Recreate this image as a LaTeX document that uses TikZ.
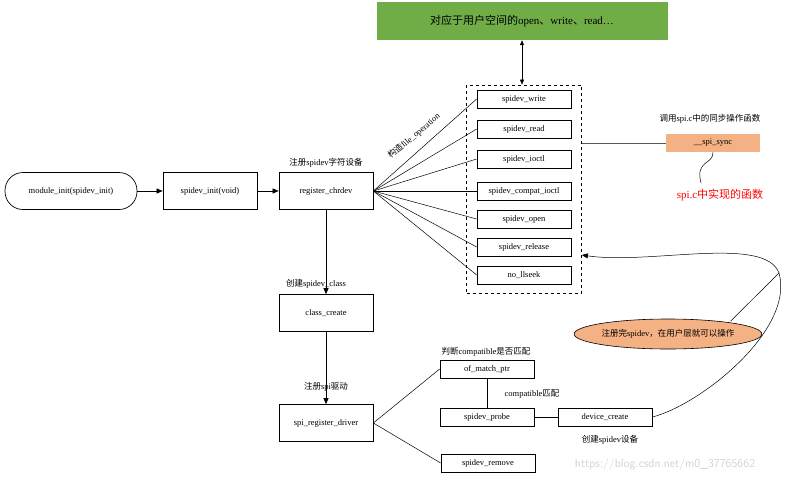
\documentclass[tikz,border=0pt]{standalone}
\usepackage{fontspec}
\setmainfont{Liberation Serif}
\newfontfamily\cjk{Noto Sans CJK SC}
\usetikzlibrary{shapes.geometric,arrows.meta,decorations.pathmorphing}
\definecolor{gfill}{HTML}{70AD47}
\definecolor{ofill}{HTML}{F4B183}
\begin{document}
\begin{tikzpicture}[x=1pt,y=-1pt,font=\fontsize{8.5}{10}\selectfont,
  box/.style={draw,line width=0.7pt,minimum height=#1,inner sep=1pt},
  b/.style={box=37pt,minimum width=94pt},
  s/.style={box=18pt,minimum width=94pt},
  arr/.style={-{Triangle[length=6pt,width=5pt]},line width=0.6pt},
  ln/.style={line width=0.5pt}]
\useasboundingbox (0,0) rectangle (789,482);
\node[fill=gfill,minimum width=291pt,minimum height=38pt,font=\fontsize{11}{13}\selectfont] (top) at (522,21) {{\cjk 对应于用户空间的}open{\cjk 、}write{\cjk 、}read…};
\node[draw,dashed,line width=0.7pt,minimum width=115pt,minimum height=208pt] (dash) at (524,189) {};
\draw[{Triangle[length=5pt,width=4pt]}-{Triangle[length=5pt,width=4pt]},line width=0.6pt] (top.south) -- (dash.north -| top.south);
\node[draw,line width=0.7pt,rounded corners=18pt,minimum width=132pt,minimum height=37pt] (mi) at (71,191) {module\_init(spidev\_init)};
\node[b] (si) at (210,191) {spidev\_init(void)};
\node[b] (rc) at (326,191) {register\_chrdev};
\node[b] (cc) at (326,313) {class\_create};
\node[b] (sr) at (326,423) {spi\_register\_driver};
\draw[arr] (mi) -- (si);
\draw[arr] (si) -- (rc);
\draw[arr] (rc) -- (cc);
\draw[arr] (cc) -- (sr);
\foreach \n/\t/\y in {w/spidev\_write/99,r/spidev\_read/129,i/spidev\_ioctl/159,c/spidev\_compat\_ioctl/191,o/spidev\_open/219,re/spidev\_release/247,l/no\_llseek/275}{
  \node[s] (\n) at (524,\y) {\t};
  \draw[ln] (rc.east) -- (\n.west);
}
\node[rotate=40,fill=white,inner sep=0.5pt] (fo) at (414,136) {{\cjk 构造}file\_operation};
\node (l1) at (326,163) {{\cjk 注册}spidev{\cjk 字符设备}};
\node (l2) at (316,284) {{\cjk 创建}spidev\_class};
\node (l3) at (326,387) {{\cjk 注册}spi{\cjk 驱动}};
\node[s,fill=ofill,draw=none] (ss) at (713,143) {\_\_spi\_sync};
\draw[line width=0.9pt,gray!70!black] (dash.east |- ss) -- (ss);
\node (l4) at (710,119) {{\cjk 调用}spi.c{\cjk 中的同步操作函数}};
\node[text=red,font=\fontsize{11}{13}\selectfont] (l5) at (720,195) {spi.c{\cjk 中实现的函数}};
\coordinate (cu) at (701,183);
\draw[ln] (ss.south) .. controls (713,165) and (695,160) .. (cu);
\node[s] (om) at (487,369) {of\_match\_ptr};
\node[s] (sp) at (487,417) {spidev\_probe};
\node[s] (dc) at (605,417) {device\_create};
\node[s] (rm) at (488,463) {spidev\_remove};
\draw[ln] (sr.east) -- (om.west);
\draw[ln] (sr.east) -- (rm.west);
\draw[ln] (om) -- (sp);
\draw[ln] (sp) -- (dc);
\node (l6) at (486,352) {{\cjk 判断}compatible{\cjk 是否匹配}};
\node (l7) at (532,394) {compatible{\cjk 匹配}};
\node (l8) at (610,440) {{\cjk 创建}spidev{\cjk 设备}};
\node[draw,ellipse,fill=ofill,line width=0.6pt,minimum width=178pt,minimum height=30pt,inner sep=0pt] (el) at (668,334) {{\cjk 注册完}spidev{\cjk ，在用户层就可以操作}};
\coordinate (tp) at (779,273);
\draw[ln] (dc.east) .. controls (700,405) and (795,330) .. (tp);
\draw[arr,line width=0.5pt] (tp) .. controls (765,235) and (650,265) .. (dash.east |- 0,255);
\draw[ln] (el.north east) ++(-4,-2) -- (tp);
\node[text=gray!35,font=\fontsize{12}{14}\selectfont\sffamily] (wm) at (665,464) {https://blog.csdn.net/m0\_37765662};
\end{tikzpicture}
\end{document}
